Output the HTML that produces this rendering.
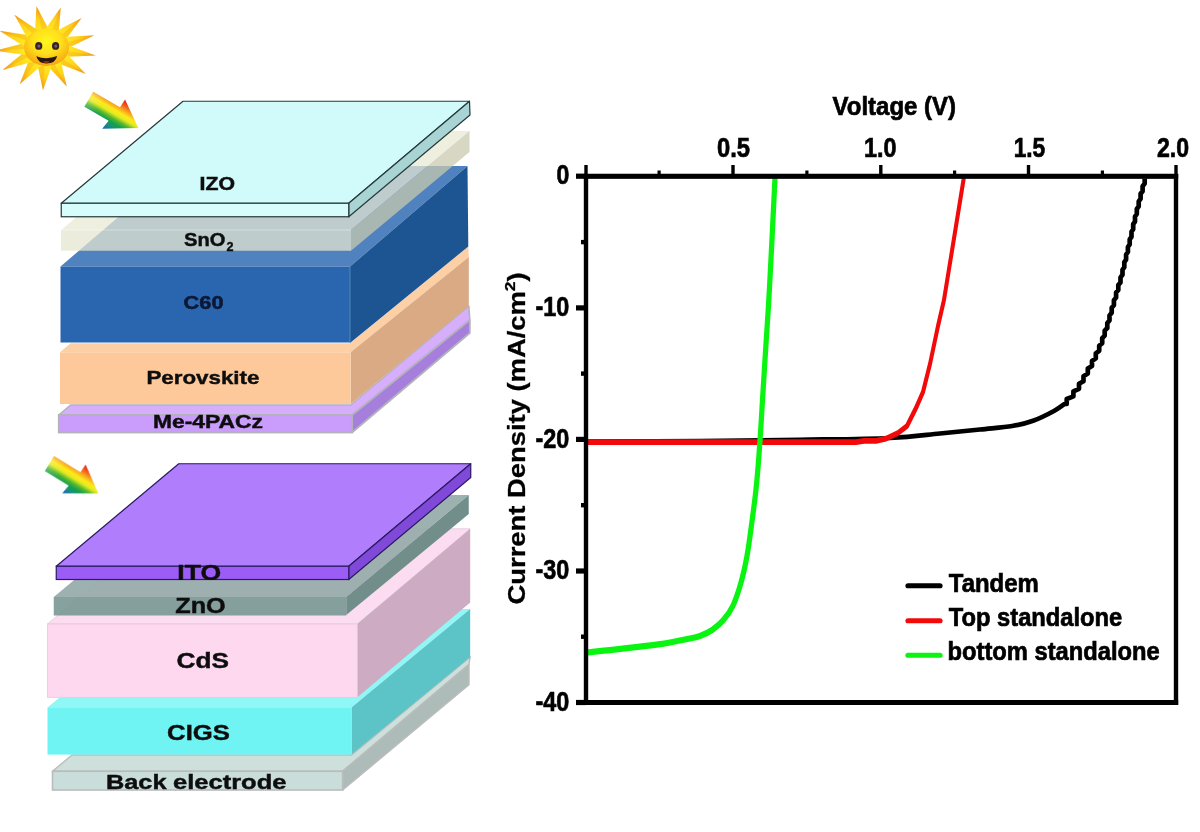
<!DOCTYPE html>
<html lang="en"><head><meta charset="utf-8"><title>Tandem solar cell – layer stack and J-V curves</title>
<style>
html,body{margin:0;padding:0;background:#fff;}
body{width:1200px;height:832px;overflow:hidden;font-family:"Liberation Sans",sans-serif;}
svg{display:block}
.lab{font-family:"Liberation Sans",sans-serif;font-weight:bold;fill:#111;stroke:#111;stroke-width:0.45px;}
.ax{font-family:"Liberation Sans",sans-serif;font-weight:bold;fill:#000;stroke:#000;stroke-width:0.7px;}
</style></head><body>
<svg width="1200" height="832" viewBox="0 0 1200 832">
<defs>
<radialGradient id="face" cx="0.5" cy="0.35" r="0.65">
<stop offset="0" stop-color="#fff820"/><stop offset="0.5" stop-color="#ffdf1a"/><stop offset="1" stop-color="#f5a416"/>
</radialGradient>
<linearGradient id="ray" x1="0" y1="0" x2="1" y2="0">
<stop offset="0" stop-color="#fff024"/><stop offset="0.55" stop-color="#ffd21c"/><stop offset="1" stop-color="#f29614"/>
</linearGradient>
<linearGradient id="rain" gradientUnits="userSpaceOnUse" x1="0" y1="-18.5" x2="0" y2="18.5">
<stop offset="0" stop-color="#e0121a"/><stop offset="0.14" stop-color="#f0501a"/><stop offset="0.27" stop-color="#f7a01c"/>
<stop offset="0.40" stop-color="#fdea1c"/><stop offset="0.50" stop-color="#e4ea20"/><stop offset="0.62" stop-color="#52b830"/><stop offset="0.72" stop-color="#1aa04a"/>
<stop offset="0.84" stop-color="#14907c"/><stop offset="1" stop-color="#1c62c8"/>
</linearGradient>
<linearGradient id="tailfade" gradientUnits="userSpaceOnUse" x1="0" y1="0" x2="14" y2="0">
<stop offset="0" stop-color="#fff" stop-opacity="0.22"/><stop offset="1" stop-color="#fff" stop-opacity="0"/>
</linearGradient>
<filter id="soft" x="-5%" y="-5%" width="110%" height="110%"><feGaussianBlur stdDeviation="0.55"/></filter>
<filter id="soft2" x="-20%" y="-20%" width="140%" height="140%"><feGaussianBlur stdDeviation="0.7"/></filter>
<g id="arrow">
<polygon points="0,-8.7 31,-8.7 31.5,-18 57.3,0 26.5,18.8 28,8.7 0,8.7" fill="url(#rain)"/>
<rect x="0" y="-8.7" width="14" height="17.4" fill="url(#tailfade)"/>
</g>
</defs>
<rect width="1200" height="832" fill="#fff"/>

<g filter="url(#soft2)">
<g transform="translate(45.8,47.9) scale(1.2,1)">
<polygon transform="rotate(-100.6)" points="14,-6.7 42.3,0 14,6.7" fill="url(#ray)"/>
<polygon transform="rotate(-100.6)" points="14,0 42.3,0 14,6.7" fill="#ee9410" fill-opacity="0.28"/>
<polygon transform="rotate(-72.9)" points="14,-6.7 42.3,0 14,6.7" fill="url(#ray)"/>
<polygon transform="rotate(-72.9)" points="14,0 42.3,0 14,6.7" fill="#ee9410" fill-opacity="0.28"/>
<polygon transform="rotate(-45.2)" points="14,-6.7 42.3,0 14,6.7" fill="url(#ray)"/>
<polygon transform="rotate(-45.2)" points="14,0 42.3,0 14,6.7" fill="#ee9410" fill-opacity="0.28"/>
<polygon transform="rotate(-17.5)" points="14,-6.7 42.3,0 14,6.7" fill="url(#ray)"/>
<polygon transform="rotate(-17.5)" points="14,0 42.3,0 14,6.7" fill="#ee9410" fill-opacity="0.28"/>
<polygon transform="rotate(10.2)" points="14,-6.7 42.3,0 14,6.7" fill="url(#ray)"/>
<polygon transform="rotate(10.2)" points="14,0 42.3,0 14,6.7" fill="#ee9410" fill-opacity="0.28"/>
<polygon transform="rotate(37.9)" points="14,-6.7 42.3,0 14,6.7" fill="url(#ray)"/>
<polygon transform="rotate(37.9)" points="14,0 42.3,0 14,6.7" fill="#ee9410" fill-opacity="0.28"/>
<polygon transform="rotate(65.6)" points="14,-6.7 42.3,0 14,6.7" fill="url(#ray)"/>
<polygon transform="rotate(65.6)" points="14,0 42.3,0 14,6.7" fill="#ee9410" fill-opacity="0.28"/>
<polygon transform="rotate(93.2)" points="14,-6.7 42.3,0 14,6.7" fill="url(#ray)"/>
<polygon transform="rotate(93.2)" points="14,0 42.3,0 14,6.7" fill="#ee9410" fill-opacity="0.28"/>
<polygon transform="rotate(120.9)" points="14,-6.7 42.3,0 14,6.7" fill="url(#ray)"/>
<polygon transform="rotate(120.9)" points="14,0 42.3,0 14,6.7" fill="#ee9410" fill-opacity="0.28"/>
<polygon transform="rotate(148.6)" points="14,-6.7 42.3,0 14,6.7" fill="url(#ray)"/>
<polygon transform="rotate(148.6)" points="14,0 42.3,0 14,6.7" fill="#ee9410" fill-opacity="0.28"/>
<polygon transform="rotate(176.3)" points="14,-6.7 42.3,0 14,6.7" fill="url(#ray)"/>
<polygon transform="rotate(176.3)" points="14,0 42.3,0 14,6.7" fill="#ee9410" fill-opacity="0.28"/>
<polygon transform="rotate(204.0)" points="14,-6.7 42.3,0 14,6.7" fill="url(#ray)"/>
<polygon transform="rotate(204.0)" points="14,0 42.3,0 14,6.7" fill="#ee9410" fill-opacity="0.28"/>
<polygon transform="rotate(231.7)" points="14,-6.7 42.3,0 14,6.7" fill="url(#ray)"/>
<polygon transform="rotate(231.7)" points="14,0 42.3,0 14,6.7" fill="#ee9410" fill-opacity="0.28"/>
</g>
<g transform="translate(46.6,47.2) scale(1.2,1)">
<circle r="18.8" fill="url(#face)"/>
</g>
<ellipse cx="38.7" cy="45.9" rx="3.6" ry="3.9" fill="#3b241a"/><ellipse cx="55.6" cy="45.9" rx="3.6" ry="3.9" fill="#3b241a"/>
<ellipse cx="38.9" cy="46.1" rx="1.5" ry="1.7" fill="#6a5a8a"/><ellipse cx="55.8" cy="46.1" rx="1.5" ry="1.7" fill="#6a5a8a"/>
<path d="M36.3,56.2 Q46.3,60.2 57.2,56.0 Q55.5,63.6 46.4,63.6 Q38.2,63.4 36.3,56.2 Z" fill="#2a1408"/>
<path d="M42.5,62 Q46.4,60.2 50.5,61.9 Q46.5,64 42.5,62 Z" fill="#8a3512"/>
</g>
<g filter="url(#soft)">
<use href="#arrow" transform="translate(88.8,99.2) rotate(30.3)"/>
<use href="#arrow" transform="translate(49.4,463.5) rotate(31.5)"/>
</g>
<g filter="url(#soft)">
<polygon points="58.75,415.00 70.50,405.00 350.60,405.00 468.80,306.00 469.80,320.00 352.00,415.00" fill="#d6aefc" stroke="#b4b2bc" stroke-width="1.6" stroke-linejoin="round"/>
<polygon points="352.00,415.00 469.80,320.00 469.80,333.00 352.00,432.50" fill="#a67fdc" stroke="#b4b2bc" stroke-width="1.8" stroke-linejoin="round"/>
<rect x="58.75" y="415" width="293.25" height="17.5" fill="#ca9cfc" stroke="#b4b2bc" stroke-width="1.8"/>
<polygon points="60.00,352.30 70.50,343.20 350.00,343.20 468.30,246.50 468.80,257.00 350.60,352.30" fill="#fdcfa5"/>
<polygon points="350.60,352.30 468.80,257.00 468.80,306.00 350.60,404.00" fill="#d9aa84"/>
<rect x="60" y="352.3" width="290.6" height="51.7" fill="#fdc99b"/>
<polygon points="60.50,266.50 178.00,166.00 467.50,166.00 350.00,266.50" fill="#4f82be"/>
<polygon points="350.00,266.50 467.50,166.00 468.30,246.50 350.00,343.00" fill="#1f5592"/>
<rect x="60.5" y="266.5" width="289.5" height="76" fill="#2966b0"/>
<line x1="350" y1="266.5" x2="350" y2="342.5" stroke="#5f8fc8" stroke-width="0.8"/>
<polygon points="61.00,230.00 179.50,131.00 469.50,131.00 351.00,230.00" fill="#e9e9d4" fill-opacity="0.72"/>
<polygon points="351.00,230.00 469.50,131.00 469.50,152.00 351.00,250.75" fill="#c9c9b0" fill-opacity="0.74"/>
<rect x="61" y="230" width="290" height="20.75" fill="#e6e6d0" fill-opacity="0.74"/>
<line x1="61" y1="230" x2="351" y2="230" stroke="#fff" stroke-opacity="0.35" stroke-width="1"/>
<polygon points="61.25,203.25 183.00,101.25 469.50,101.25 348.75,203.25" fill="#d1fbfb" stroke="#27383a" stroke-width="1.2" stroke-linejoin="round"/>
<polygon points="348.75,203.25 469.50,101.25 470.00,115.00 348.75,216.75" fill="#a9d4d4" stroke="#27383a" stroke-width="1.2" stroke-linejoin="round"/>
<rect x="61.25" y="203.25" width="287.5" height="13.5" fill="#d7fcfc" stroke="#27383a" stroke-width="1.2"/>
</g>
<g filter="url(#soft)">
<polygon points="52.50,771.30 72.00,755.00 351.50,755.00 470.20,657.00 468.90,664.50 342.60,771.30" fill="#cde0dc" stroke="#b9bcbb" stroke-width="1.4" stroke-linejoin="round"/>
<polygon points="342.60,771.30 468.90,664.50 468.90,684.70 342.60,790.00" fill="#adbcb8" stroke="#b9bcbb" stroke-width="1.6" stroke-linejoin="round"/>
<rect x="52.5" y="771.3" width="290.1" height="18.7" fill="#c9dedb" stroke="#b9bcbb" stroke-width="1.6"/>
<polygon points="47.50,707.40 166.50,609.00 470.20,609.00 351.50,707.40" fill="#90f6f6"/>
<polygon points="351.50,707.40 470.20,609.00 470.20,656.90 351.50,754.60" fill="#5cc4c7"/>
<rect x="47.5" y="707.4" width="304" height="47.2" fill="#70f3f3"/>
<polygon points="47.50,624.00 160.00,528.75 470.20,528.75 357.30,624.00" fill="#fbdcf0" stroke="#e6c8dc" stroke-width="0.8"/>
<polygon points="357.30,624.00 470.20,528.75 470.20,602.60 357.30,697.30" fill="#cdacc3"/>
<rect x="47.5" y="624" width="309.8" height="73.3" fill="#fdd8ef" stroke="#e6c8dc" stroke-width="0.8"/>
<polygon points="53.75,597.00 176.25,495.00 468.75,495.00 346.25,597.00" fill="#96acaa" fill-opacity="0.93"/>
<polygon points="346.25,597.00 468.75,495.00 468.75,514.00 346.25,615.00" fill="#718e8a"/>
<rect x="53.75" y="597" width="292.5" height="18.5" fill="#7c9a97" fill-opacity="0.93"/>
<polygon points="56.25,566.25 178.75,463.75 470.75,463.75 348.75,566.25" fill="#b07dfc" stroke="#2b1a63" stroke-width="1.2" stroke-linejoin="round"/>
<polygon points="348.75,566.25 470.75,463.75 470.75,477.50 348.75,579.50" fill="#8149da" stroke="#2b1a63" stroke-width="1.2" stroke-linejoin="round"/>
<rect x="56.25" y="566.25" width="292.5" height="13.25" fill="#9c5df6" stroke="#2b1a63" stroke-width="1.2"/>
</g>
<g filter="url(#soft)">
<text class="lab" x="199.54" y="189.75" font-size="18.20" textLength="35.39" lengthAdjust="spacingAndGlyphs">IZO</text>
<text class="lab"><tspan x="184.14" y="246.41" font-size="18.83" textLength="41.37" lengthAdjust="spacingAndGlyphs">SnO</tspan><tspan x="226.5" y="251.2" font-size="13.6" textLength="7" lengthAdjust="spacingAndGlyphs">2</tspan></text>
<text class="lab" style="fill:#0a1630;stroke:#0a1630" x="183.58" y="308.82" font-size="18.42" textLength="39.99" lengthAdjust="spacingAndGlyphs">C60</text>
<text class="lab" x="146.43" y="383.57" font-size="18.95" textLength="112.98" lengthAdjust="spacingAndGlyphs">Perovskite</text>
<text class="lab" x="153.03" y="427.82" font-size="18.42" textLength="109.98" lengthAdjust="spacingAndGlyphs">Me-4PACz</text>
<clipPath id="itoclip"><rect x="100" y="540" width="200" height="39.9"/></clipPath>
<g clip-path="url(#itoclip)"><text class="lab" x="177.32" y="580.11" font-size="21.60" textLength="43.78" lengthAdjust="spacingAndGlyphs">ITO</text></g>
<text class="lab" x="175.29" y="612.81" font-size="21.33" textLength="50.48" lengthAdjust="spacingAndGlyphs">ZnO</text>
<text class="lab" x="176.53" y="667.52" font-size="21.79" textLength="52.35" lengthAdjust="spacingAndGlyphs">CdS</text>
<text class="lab" x="167.13" y="739.61" font-size="21.47" textLength="62.75" lengthAdjust="spacingAndGlyphs">CIGS</text>
<text class="lab"><tspan x="105.93" y="788.62" font-size="20.12" textLength="60.56" lengthAdjust="spacingAndGlyphs">Back</tspan> <tspan x="172.94" y="788.62" font-size="20.12" textLength="113.56" lengthAdjust="spacingAndGlyphs">electrode</tspan></text>
</g>
<g fill="none" stroke-linejoin="round">
<path d="M586.0,441.6 C605.0,441.5 664.3,441.3 700.0,441.0 C735.7,440.7 768.3,440.3 800.0,439.8 C831.7,439.3 866.7,439.1 890.0,438.0 C913.3,436.9 925.0,434.9 940.0,433.5 C955.0,432.1 968.0,430.8 980.0,429.5 C992.0,428.2 1003.4,427.4 1012.2,426.0 C1021.1,424.6 1026.1,423.3 1033.1,420.8 C1040.1,418.3 1048.8,413.8 1054.0,411.0 C1059.2,408.2 1062.8,405.2 1064.5,404.0 L1066.7,404.0 L1066.7,399.0 L1073.4,396.4 L1073.4,391.4 L1079.0,388.8 L1079.0,383.8 L1083.5,381.2 L1083.5,376.2 L1087.8,373.6 L1087.8,368.6 L1092.0,366.0 L1092.0,361.0 L1095.8,358.4 L1095.8,353.4 L1099.2,350.8 L1099.2,345.8 L1102.2,343.2 L1102.2,338.2 L1104.7,335.6 L1104.7,330.6 L1107.3,328.0 L1107.3,323.0 L1109.5,320.4 L1109.5,315.4 L1111.7,312.8 L1111.7,307.8 L1113.9,305.2 L1113.9,300.2 L1116.1,297.6 L1116.1,292.6 L1118.3,290.0 L1118.3,285.0 L1120.5,282.4 L1120.5,277.4 L1122.5,274.8 L1122.5,269.8 L1124.3,267.2 L1124.3,262.2 L1126.1,259.6 L1126.1,254.6 L1127.9,252.0 L1127.9,247.0 L1129.7,244.4 L1129.7,239.4 L1131.5,236.8 L1131.5,231.8 L1133.2,229.2 L1133.2,224.2 L1135.0,221.6 L1135.0,216.6 L1136.8,214.0 L1136.8,209.0 L1138.7,206.4 L1138.7,201.4 L1140.6,198.8 L1140.6,193.8 L1142.6,191.2 L1142.6,186.2 L1144.7,183.6 L1144.7,178.6" stroke="#000" stroke-width="4.7"/>
<path transform="scale(1,1.44)" d="M586.0,307.0 L800.0,307.0 L856.0,307.0 L864.0,306.1 L876.0,306.1 L886.0,304.6 L898.0,300.7 L907.0,295.8 L916.0,283.3 L923.0,272.2 L930.0,252.8 L938.0,226.4 L944.0,208.3 L963.8,123.6" stroke="#f20a0a" stroke-width="4"/>
<path transform="scale(1,1.2)" d="M586.0,543.8 C590.0,543.4 601.0,542.5 610.0,541.7 C619.0,540.8 631.2,539.6 640.0,538.8 C648.8,537.9 655.0,537.4 662.5,536.5 C670.0,535.5 678.8,534.0 685.0,532.9 C691.2,531.8 695.4,531.4 700.0,530.0 C704.6,528.6 708.6,527.0 712.5,524.8 C716.4,522.5 720.0,520.0 723.4,516.7 C726.8,513.4 729.9,510.0 732.8,505.0 C735.7,500.0 738.2,493.6 740.6,486.7 C743.0,479.7 745.2,471.5 747.0,463.3 C748.8,455.1 750.0,447.0 751.5,437.5 C753.0,428.0 754.8,418.0 756.2,406.2 C757.7,394.5 759.0,379.3 760.0,367.2 C761.0,355.0 761.5,346.8 762.5,333.3 C763.5,319.9 764.8,302.2 766.0,286.7 C767.2,271.1 768.0,263.1 769.5,240.0 C771.0,216.9 774.1,163.6 775.0,148.3" stroke="#0af412" stroke-width="5.25"/>
</g>
<rect x="586" y="176.2" width="590" height="526.3" fill="none" stroke="#000" stroke-width="4.4"/>
<line x1="583.8" y1="176.2" x2="1178.2" y2="176.2" stroke="#000" stroke-width="5"/>
<line x1="583.8" y1="702.5" x2="1178.2" y2="702.5" stroke="#000" stroke-width="5"/>
<line x1="586.0" y1="165" x2="586.0" y2="176" stroke="#000" stroke-width="3.4"/>
<line x1="659.1" y1="170.5" x2="659.1" y2="176" stroke="#000" stroke-width="3.2"/>
<line x1="733.0" y1="165" x2="733.0" y2="176" stroke="#000" stroke-width="3.4"/>
<line x1="806.9" y1="170.5" x2="806.9" y2="176" stroke="#000" stroke-width="3.2"/>
<line x1="880.8" y1="165" x2="880.8" y2="176" stroke="#000" stroke-width="3.4"/>
<line x1="954.6" y1="170.5" x2="954.6" y2="176" stroke="#000" stroke-width="3.2"/>
<line x1="1028.5" y1="165" x2="1028.5" y2="176" stroke="#000" stroke-width="3.4"/>
<line x1="1102.4" y1="170.5" x2="1102.4" y2="176" stroke="#000" stroke-width="3.2"/>
<line x1="1176.0" y1="165" x2="1176.0" y2="176" stroke="#000" stroke-width="3.4"/>
<line x1="576" y1="176.2" x2="586" y2="176.2" stroke="#000" stroke-width="5.2"/>
<line x1="581" y1="242.1" x2="586" y2="242.1" stroke="#000" stroke-width="4.4"/>
<line x1="576" y1="307.9" x2="586" y2="307.9" stroke="#000" stroke-width="5.2"/>
<line x1="581" y1="373.6" x2="586" y2="373.6" stroke="#000" stroke-width="4.4"/>
<line x1="576" y1="439.4" x2="586" y2="439.4" stroke="#000" stroke-width="5.2"/>
<line x1="581" y1="505.2" x2="586" y2="505.2" stroke="#000" stroke-width="4.4"/>
<line x1="576" y1="571.0" x2="586" y2="571.0" stroke="#000" stroke-width="5.2"/>
<line x1="581" y1="636.7" x2="586" y2="636.7" stroke="#000" stroke-width="4.4"/>
<line x1="576" y1="702.5" x2="586" y2="702.5" stroke="#000" stroke-width="5.2"/>
<text class="ax" x="716.93" y="157.01" font-size="27.30" textLength="33.03" lengthAdjust="spacingAndGlyphs">0.5</text>
<text class="ax" x="863.94" y="157.01" font-size="27.30" textLength="32.45" lengthAdjust="spacingAndGlyphs">1.0</text>
<text class="ax" x="1013.65" y="157.00" font-size="27.64" textLength="31.61" lengthAdjust="spacingAndGlyphs">1.5</text>
<text class="ax" x="1156.98" y="156.81" font-size="27.30" textLength="32.09" lengthAdjust="spacingAndGlyphs">2.0</text>
<text class="ax" x="556.45" y="184.21" font-size="27.16" textLength="12.82" lengthAdjust="spacingAndGlyphs">0</text>
<text class="ax" x="535.48" y="316.01" font-size="27.72" textLength="33.80" lengthAdjust="spacingAndGlyphs">-10</text>
<text class="ax" x="535.48" y="447.51" font-size="27.72" textLength="33.80" lengthAdjust="spacingAndGlyphs">-20</text>
<text class="ax" x="535.48" y="578.87" font-size="27.39" textLength="33.80" lengthAdjust="spacingAndGlyphs">-30</text>
<text class="ax" x="535.48" y="710.60" font-size="27.72" textLength="33.80" lengthAdjust="spacingAndGlyphs">-40</text>
<text class="ax" x="832.55" y="115.46" font-size="26.11" textLength="123.46" lengthAdjust="spacingAndGlyphs">Voltage (V)</text>
<text class="ax" style="stroke-width:0.3px" transform="translate(525.2,604.4) rotate(-90)" font-size="23.3" textLength="332" lengthAdjust="spacingAndGlyphs">Current Density (mA/cm<tspan font-size="14.8" dy="-10.2">2</tspan><tspan dy="10.2">)</tspan></text>
<line x1="908" y1="585.75" x2="940" y2="585.75" stroke="#000" stroke-width="5.2" stroke-linecap="round"/>
<line x1="908" y1="620.75" x2="940" y2="620.75" stroke="#f20a0a" stroke-width="5.2" stroke-linecap="round"/>
<line x1="908" y1="655.25" x2="940" y2="655.25" stroke="#0af412" stroke-width="5.2" stroke-linecap="round"/>
<text class="ax" x="948.80" y="591.73" font-size="26.04" textLength="89.97" lengthAdjust="spacingAndGlyphs">Tandem</text>
<text class="ax" x="948.80" y="625.61" font-size="26.30" textLength="173.50" lengthAdjust="spacingAndGlyphs">Top standalone</text>
<text class="ax" x="947.54" y="659.82" font-size="26.18" textLength="212.26" lengthAdjust="spacingAndGlyphs">bottom standalone</text>
</svg></body></html>
